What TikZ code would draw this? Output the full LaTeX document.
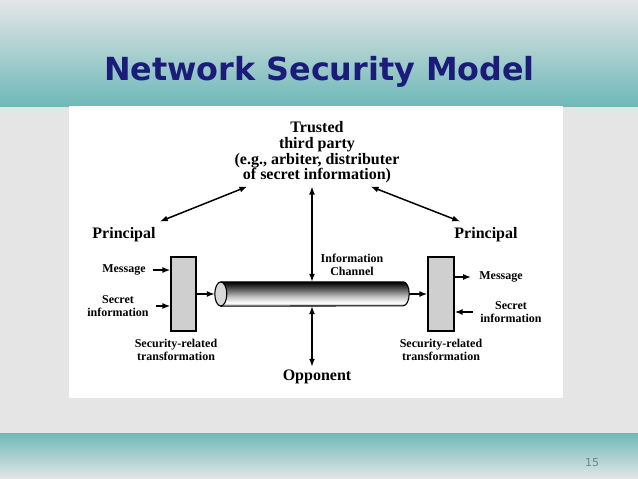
\documentclass[tikz,border=0pt]{standalone}
\usepackage{fontspec}
\setmainfont{Liberation Serif}
\newfontfamily\titlefont{DejaVu Sans}
\usetikzlibrary{arrows.meta,calc}
\definecolor{nsnavy}{HTML}{1B1B7A}
\definecolor{nsteal}{HTML}{6FB8B8}
\definecolor{nsgray}{HTML}{E5E5E5}
\definecolor{nsgrayT}{HTML}{E4E6E6}
\definecolor{nsbox}{HTML}{CFCFCF}
\definecolor{nsnum}{HTML}{6A8A8A}
\pgfdeclareverticalshading{chanshade}{100bp}{color(0bp)=(black!40); color(25bp)=(black!40);
  color(32bp)=(white); color(45bp)=(black!25); color(68bp)=(black!85); color(75bp)=(black); color(100bp)=(black)}

\begin{document}
\begin{tikzpicture}[x=1pt, y=-1pt,
      lbl/.style={font=\fontsize{16}{15.7}\selectfont\bfseries, align=center, inner sep=3pt},
      smlbl/.style={font=\fontsize{12}{12.4}\selectfont\bfseries, align=center, inner sep=3pt},
      tbox/.style={draw, line width=1.1pt, fill=nsbox, minimum width=25pt, minimum height=74pt, inner sep=0pt},
      chanbox/.style={minimum width=194pt, minimum height=24pt, inner sep=0pt},
      arr/.style={-{Latex[length=8pt,width=6pt]}, line width=1.5pt},
      dblarr/.style={{Latex[length=8pt,width=6pt]}-{Latex[length=8pt,width=6pt]}, line width=1.5pt}
    ]
    % ------------- Slide background -------------
    \useasboundingbox (0,0) rectangle (638,479);
    \fill[nsgray] (0,0) rectangle (638,479);
    \shade[top color=nsgrayT, bottom color=nsteal] (0,0) rectangle (638,106);
    \shade[top color=nsteal, bottom color=nsgrayT] (0,433) rectangle (638,479);
    \fill[white] (69,106) rectangle (563,398);
    \node[font=\titlefont\bfseries\fontsize{31.8}{34}\selectfont, text=nsnavy, anchor=base] (title) at (319.5,80) {Network Security Model};
    \node[font=\titlefont\fontsize{11}{12}\selectfont, text=nsnum] (pgno) at (592,463) {15};
    % ------------- Labels -------------
    \node[lbl] (trusted) at (317,152.5) {Trusted\\third party\\(e.g., arbiter, distributer\\of secret information)};
    \node[lbl] (prinL) at (124,235) {Principal};
    \node[lbl] (prinR) at (486,235) {Principal};
    \node[lbl] (opp) at (317,377) {Opponent};
    \node[smlbl] (chanlbl) at (352,265) {Information\\Channel};
    \node[smlbl] (msgL) at (124,270) {Message};
    \node[smlbl] (secL) at (118,306) {Secret\\information};
    \node[smlbl] (msgR) at (501,277) {Message};
    \node[smlbl] (secR) at (511,312) {Secret\\information};
    \node[smlbl] (transL) at (176,350) {Security-related\\transformation};
    \node[smlbl] (transR) at (441,350) {Security-related\\transformation};
    % ------------- Boxes and channel -------------
    \node[tbox] (boxL) at (183.5,294) {};
    \node[tbox, minimum width=26pt] (boxR) at (441,294) {};
    \node[chanbox] (chan) at (312,294) {};
    \shade[shading=chanshade, draw, line width=1.1pt]
      ($(chan.north west)+(6,0)$) -- ($(chan.north east)+(-6,0)$)
      arc[start angle=-90, end angle=90, x radius=6, y radius=12]
      -- ($(chan.south west)+(6,0)$) -- cycle;
    \draw[fill=black!15, line width=1.1pt] ($(chan.west)+(6,0)$) ellipse [x radius=6, y radius=12];
    % ------------- Arrows -------------
    \draw[dblarr] ([shift={(1,-3)}]prinL.north east) -- ([xshift=16pt]trusted.south west);
    \draw[dblarr] ([xshift=-32pt]trusted.south east) -- ([shift={(9,-3)}]prinR.north west);
    \draw[dblarr] (trusted.south -| chan.north) -- (chan.north);
    \draw[dblarr] (chan.south) -- (chan.south |- opp.north);
    \draw[arr] ([xshift=4pt]msgL.east) -- (msgL.east -| boxL.west);
    \draw[arr] ([xshift=4pt]secL.east) -- (secL.east -| boxL.west);
    \draw[arr] (boxL) -- (chan.west);
    \draw[arr] (chan) -- (boxR);
    \draw[arr] (msgR.west -| boxR.east) -- ([xshift=-5pt]msgR.west);
    \draw[arr] ([xshift=-4pt]secR.west) -- (secR.west -| boxR.east);
  \end{tikzpicture}
\end{document}
